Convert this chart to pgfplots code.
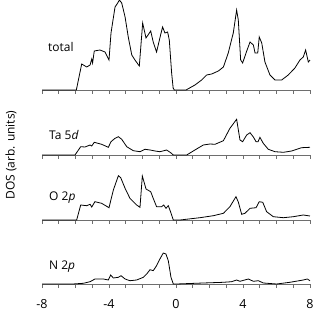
\documentclass[border=0pt]{standalone}
\usepackage{fontspec}
\setmainfont{Open Sans}
\usepackage{pgfplots}
\pgfplotsset{compat=1.18}
\definecolor{axgray}{RGB}{110,110,110}
\pgfplotsset{
  dospanel/.style={
    scale only axis, width=268bp,
    xmin=-8, xmax=8, ymin=0, enlargelimits=false,
    axis x line*=bottom, axis y line=none,
    axis line style={axgray, line width=0.6pt},
    xtick={-8,-4,0,4,8}, minor xtick={-7,-6,-5,-3,-2,-1,1,2,3,5,6,7},
    tick align=outside, major tick length=4bp, minor tick length=4bp,
    every tick/.style={axgray, line width=0.6pt},
    xticklabels={}, clip=false,
    x tick label style={font=\fontsize{12.5bp}{14bp}\selectfont, yshift=-7bp},
    cycle list={{black, line width=0.8pt, mark=none}},
  }
}
\begin{document}
\fontsize{12bp}{14bp}\selectfont
\begin{tikzpicture}
\useasboundingbox (0,0) rectangle (320bp,320bp);
% total
\begin{axis}[dospanel, height=90bp, ymax=90, at={(42bp,230bp)}, anchor=south west]
\addplot[black, line width=0.8pt, mark=none] coordinates {(-8,0)(-5.95,0)(-5.63,26)(-5.33,23)(-5.13,25)(-5.03,31)(-4.98,27)(-4.88,39)(-4.54,40)(-4.24,38)(-4.0,30)(-3.88,57)(-3.64,83)(-3.48,87)(-3.38,90)(-3.24,87)(-3.04,73)(-2.85,53)(-2.64,35)(-2.45,30)(-2.19,24)(-1.99,67)(-1.79,52)(-1.51,59)(-1.36,48)(-1.16,38)(-0.92,55)(-0.80,63)(-0.66,57)(-0.50,58)(-0.40,50)(-0.26,17)(-0.17,2)(-0.10,0)(0.6,0)(1.13,5)(1.53,10)(1.83,15)(2.13,16)(2.53,19)(2.83,23)(3.12,37)(3.42,57)(3.62,80)(3.72,70)(3.86,30)(3.98,27)(4.18,37)(4.42,48)(4.62,45)(4.72,37)(4.88,37)(4.97,53)(5.12,47)(5.31,28)(5.61,15)(5.91,10)(6.31,10)(6.70,15)(7.10,22)(7.40,30)(7.60,33)(7.74,40)(7.90,28)(8.0,30)};
\end{axis}
% Ta 5d
\begin{axis}[dospanel, height=40bp, ymax=40, at={(42bp,165bp)}, anchor=south west]
\addplot[black, line width=0.8pt, mark=none] coordinates {(-8,0)(-6.03,0)(-5.69,8.3)(-5.43,8)(-5.13,10)(-5.03,9)(-4.88,12.7)(-4.44,10.7)(-4.04,7.7)(-3.88,13.3)(-3.64,16.7)(-3.44,18.3)(-3.24,15.7)(-2.94,8.3)(-2.55,4.3)(-2.15,3.3)(-1.85,5.7)(-1.55,5)(-1.25,4)(-0.96,3.3)(-0.56,5)(-0.32,2.3)(-0.16,0)(0.64,0)(1.13,5)(1.63,10)(2.03,11)(2.33,10.7)(2.83,14.3)(3.22,26.7)(3.62,35.7)(3.82,15)(3.98,13.3)(4.22,20)(4.42,22.3)(4.62,18)(4.78,13.3)(4.90,13.3)(5.01,17.7)(5.21,11.7)(5.51,5.7)(5.91,3.3)(6.41,2.7)(6.91,4)(7.50,7.3)(8,7.7)};
\end{axis}
% O 2p
\begin{axis}[dospanel, height=50bp, ymax=50, at={(42bp,100bp)}, anchor=south west]
\addplot[black, line width=0.8pt, mark=none] coordinates {(-8,0)(-5.93,0)(-5.69,15)(-5.33,14.3)(-5.13,15.7)(-5.03,13)(-4.84,18.3)(-4.44,16.7)(-4.0,12.3)(-3.74,30)(-3.44,44.3)(-3.30,42.3)(-3.04,31.7)(-2.75,21.7)(-2.35,15)(-2.15,12.7)(-2.01,44)(-1.79,31)(-1.51,28.3)(-1.36,21.7)(-1.16,13.3)(-0.86,13.3)(-0.73,15)(-0.60,11.7)(-0.46,14.3)(-0.32,8)(-0.16,0)(0.24,0)(1.43,2.3)(2.23,4.3)(2.83,6.7)(3.22,13.3)(3.58,23.3)(3.72,18)(3.92,5.7)(4.12,6.7)(4.42,11.7)(4.78,12.3)(4.97,18.3)(5.18,17.7)(5.41,8.3)(5.81,3.3)(6.41,2.3)(7.0,3.3)(7.6,5)(8,4)};
\end{axis}
% N 2p
\begin{axis}[dospanel, height=35bp, ymax=35, at={(42bp,36bp)}, anchor=south west,
  xticklabels={-8,-4,0,4,8}]
\addplot[black, line width=0.8pt, mark=none] coordinates {(-8,0)(-6.15,0)(-5.53,0.7)(-5.13,2.3)(-4.84,5)(-4.34,5)(-4.04,4)(-3.90,9)(-3.74,6)(-3.44,6.7)(-3.28,8.3)(-3.04,5)(-2.75,3.3)(-2.35,4)(-1.95,6.7)(-1.75,10)(-1.55,14.3)(-1.36,13.3)(-1.16,18.3)(-0.96,25)(-0.76,31)(-0.60,30)(-0.46,23.3)(-0.30,6.7)(-0.16,0)(0.04,0)(1.63,1)(2.83,1.7)(3.32,2.3)(3.62,4)(3.82,2.7)(4.32,5)(4.62,2.7)(4.92,3.3)(5.21,1)(6.01,0)(6.80,1.7)(7.60,4)(7.84,5)(8,3.3)};
\end{axis}
\node[anchor=west] at (44bp,273bp) {total};
\node[anchor=west] at (45bp,185bp) {Ta 5\textit{d}};
\node[anchor=west] at (45bp,122bp) {O 2\textit{p}};
\node[anchor=west] at (45bp,53bp) {N 2\textit{p}};
\node[rotate=90] at (11bp,165bp) {DOS (arb. units)};
\end{tikzpicture}
\end{document}
